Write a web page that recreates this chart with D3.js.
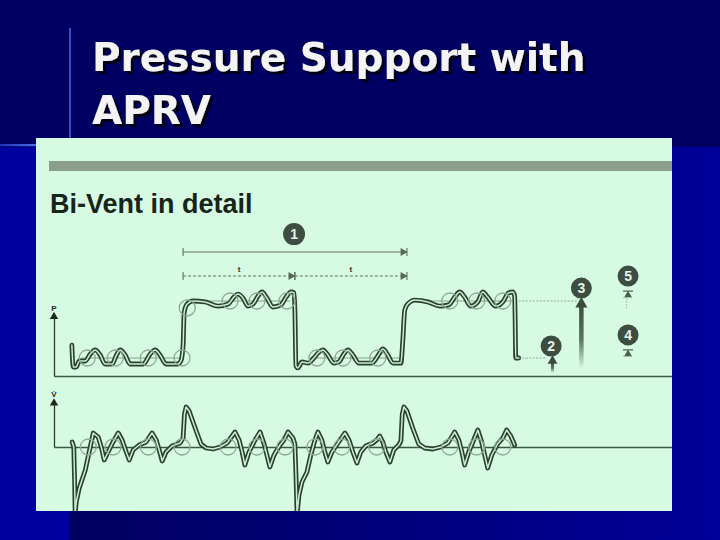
<!DOCTYPE html>
<html>
<head>
<meta charset="utf-8">
<script src="https://cdn.jsdelivr.net/npm/d3@7"></script>
<style>
  html, body { margin: 0; padding: 0; background: #000062; }
  svg { display: block; }
</style>
</head>
<body>
<div id="svgContainer"></div>
<script>
// Slide text
const titleLines = ["Pressure Support with", "APRV"];
const panelTitle = "Bi-Vent in detail";
const badgeLabels = ["1", "2", "3", "4", "5"];

// Pressure levels (cmH2O) and phase switch times (s)
const peepLow = 6;
const peepHigh = 25;
const riseTimes = [4.0, 12.0];
const fallTimes = [8.07, 16.07];
const cycleEnd = 12.15;

// Pressure trace: [time s, pressure cmH2O]
const pressureTrace = [
    [-0.05, 10.3], [0, 3], [0.11, 3], [0.22, 5], [0.44, 5], [0.62, 7.3], [0.8, 8.7],
    [0.98, 7], [1.16, 4], [1.42, 4], [1.56, 6.7], [1.71, 8.7], [1.89, 7], [2.07, 4],
    [2.55, 4], [2.8, 7.3], [2.98, 8.7], [3.16, 7], [3.38, 4], [3.82, 4], [3.93, 5.3],
    [4.0, 10.3], [4.04, 21.3], [4.15, 24], [4.36, 25], [4.8, 24.7], [5.27, 23.3],
    [5.64, 24], [5.85, 26.3], [6.0, 27.3], [6.18, 26], [6.36, 23.3], [6.55, 24],
    [6.73, 26.7], [6.87, 28], [7.05, 26], [7.27, 23], [7.56, 23.7], [7.75, 26.3],
    [7.93, 28], [8.04, 27.7], [8.07, 22], [8.11, 3.3], [8.18, 2.7], [8.33, 4.7],
    [8.55, 4.3], [8.76, 6], [8.95, 8], [9.09, 8.7], [9.27, 7], [9.49, 4.3], [9.67, 4.7],
    [9.85, 7.3], [10.0, 8.7], [10.18, 7], [10.4, 4.3], [10.87, 4.3], [11.13, 7.3],
    [11.27, 9], [11.45, 7], [11.64, 4.3], [11.93, 4.3], [12.0, 12], [12.07, 22],
    [12.18, 24], [12.44, 25.3], [12.91, 24.7], [13.35, 23.3], [13.67, 23.7],
    [13.89, 26.3], [14.07, 28], [14.25, 26.3], [14.47, 23.3], [14.73, 24.7],
    [14.91, 28], [15.09, 26.3], [15.38, 23.3], [15.64, 24.7], [15.85, 27.7],
    [16.0, 28], [16.07, 26.7], [16.09, 18.7], [16.11, 6], [16.22, 6]
];

// Flow trace: [time s, flow L/min]
const flowTrace = [
    [-0.04, 2.5], [0.02, 0], [0.05, -16.5], [0.07, -33.5], [0.11, -27.5], [0.22, -20.5],
    [0.44, -11.5], [0.58, -2.5], [0.73, 7], [0.91, 5], [1.02, 0], [1.13, -6.5],
    [1.27, -2.5], [1.45, 2.5], [1.64, 7], [1.78, 3.5], [1.93, -2.5], [2.04, -6.5],
    [2.18, -1.5], [2.4, 1], [2.65, 2.5], [2.87, 7], [3.02, 3.5], [3.13, -1.5],
    [3.24, -7], [3.38, -2.5], [3.6, 0.5], [3.89, 2], [4.0, 4.5], [4.05, 16.5],
    [4.11, 20], [4.22, 18], [4.44, 9.5], [4.65, 1.5], [4.84, -0.5], [5.09, -1],
    [5.35, 0], [5.6, 2], [5.89, 7.5], [6.04, 3.5], [6.15, -2.5], [6.25, -9],
    [6.4, -2.5], [6.62, 3.5], [6.8, 7.5], [6.95, 1.5], [7.05, -4], [7.16, -10],
    [7.31, -4], [7.53, 1], [7.67, 3.5], [7.82, 7.5], [8.0, 4.5], [8.07, 1.5],
    [8.11, -14], [8.15, -33.5], [8.22, -24], [8.33, -17.5], [8.51, -12.5], [8.65, -4],
    [8.8, 3.5], [8.91, 7.5], [9.05, 3.5], [9.16, -2.5], [9.27, -7.5], [9.42, -2.5],
    [9.64, 2], [9.89, 7], [10.04, 3.5], [10.18, -2.5], [10.33, -8], [10.47, -2.5],
    [10.65, 0.5], [10.91, 2], [11.05, 3.5], [11.16, 5.5], [11.27, 2.5], [11.38, -2.5],
    [11.53, -7.5], [11.67, -1.5], [11.85, 1], [11.93, 3], [11.98, 16.5], [12.04, 20],
    [12.15, 18], [12.36, 9.5], [12.58, 1.5], [12.8, -0.5], [13.09, -1], [13.38, 0],
    [13.64, 2], [13.89, 7.5], [14.04, 3.5], [14.15, -2.5], [14.25, -9], [14.4, -2.5],
    [14.58, 3.5], [14.73, 8.5], [14.87, 2.5], [14.98, -4], [15.09, -10.5], [15.24, -4],
    [15.45, 1.5], [15.64, 4.5], [15.78, 8.5], [15.93, 5.5], [16.07, 1]
];

// Trigger circles: [time, pressure]
const pressureTriggers = [
    [0.51, 6], [1.53, 6], [2.73, 6], [3.96, 6],
    [4.15, 22.7], [5.71, 25], [6.69, 25], [7.78, 25],
    [8.87, 6], [9.82, 6], [11.09, 6],
    [13.71, 25], [14.69, 25], [15.64, 25]
];
const flowTriggers = [0.55, 1.45, 2.73, 3.96, 5.64, 6.69, 7.71, 8.8, 9.78, 11.05, 13.71, 14.69, 15.64];

// Thin PEEP guide segments: [start, end, level]
const levelGuides = [[0.3, 3.96, 6], [4.15, 7.9, 25], [8.6, 11.9, 6], [12.3, 16.0, 25]];

const svg = d3.select("#svgContainer").append("svg")
    .attr("width", 720)
    .attr("height", 540);

const defs = svg.append("defs");
const fade = defs.append("linearGradient").attr("id", "bgFade");
fade.append("stop").attr("offset", 0).attr("stop-color", "#00005f");
fade.append("stop").attr("offset", 1).attr("stop-color", "#00009a");
const glow = defs.append("linearGradient").attr("id", "glow");
glow.append("stop").attr("offset", 0).attr("stop-color", "#1b2fb8");
glow.append("stop").attr("offset", 1).attr("stop-color", "#5078ea");
const arrowFade = defs.append("linearGradient").attr("id", "arrowFade")
    .attr("x1", 0).attr("y1", 0).attr("x2", 0).attr("y2", 1);
arrowFade.append("stop").attr("offset", 0).attr("stop-color", "#3a4b40");
arrowFade.append("stop").attr("offset", 0.55).attr("stop-color", "#5d7363");
arrowFade.append("stop").attr("offset", 1).attr("stop-color", "#d7fae3");
defs.append("clipPath").attr("id", "panelClip")
    .append("rect").attr("x", 36).attr("y", 138).attr("width", 636).attr("height", 373);
defs.append("filter").attr("id", "titleShadow")
    .attr("x", "-5%").attr("y", "-20%").attr("width", "115%").attr("height", "150%")
    .append("feDropShadow")
    .attr("dx", 3).attr("dy", 3).attr("stdDeviation", 0.6)
    .attr("flood-color", "#000000").attr("flood-opacity", 0.8);

// slide background
svg.append("rect").attr("width", 720).attr("height", 540).attr("fill", "#00009e");
svg.append("rect").attr("width", 720).attr("height", 147).attr("fill", "#000062");
svg.append("rect").attr("x", 70).attr("y", 147).attr("width", 650).attr("height", 393)
    .attr("fill", "url(#bgFade)");
svg.append("line").attr("x1", 70).attr("x2", 70).attr("y1", 28).attr("y2", 140)
    .attr("stroke", "#4568dc").attr("stroke-width", 1.6);
svg.append("rect").attr("x", 0).attr("y", 144).attr("width", 40).attr("height", 2.2)
    .attr("fill", "url(#glow)");

// title with shadow
svg.append("g")
    .attr("font-family", "DejaVu Sans, Verdana, sans-serif")
    .attr("font-weight", "bold")
    .attr("font-size", 39)
    .attr("fill", "#f4f4f4")
    .attr("filter", "url(#titleShadow)")
    .selectAll("text")
    .data(titleLines)
    .join("text")
    .attr("x", 92)
    .attr("y", (d, i) => 71 + i * 53)
    .text(d => d);

// panel
svg.append("rect").attr("x", 36).attr("y", 138).attr("width", 636).attr("height", 373)
    .attr("fill", "#d7fae3");
svg.append("rect").attr("x", 49).attr("y", 161).attr("width", 623).attr("height", 10)
    .attr("fill", "#8b9d8d");
svg.append("text")
    .attr("x", 50).attr("y", 213)
    .attr("font-family", "Liberation Sans, Arial, sans-serif")
    .attr("font-weight", "bold")
    .attr("font-size", 27)
    .attr("fill", "#17241a")
    .text(panelTitle);

const x = d3.scaleLinear().domain([-0.7, 21.8]).range([54, 672]);
const yP = d3.scaleLinear().domain([0, 30]).range([376, 286]);
const yF = d3.scaleLinear().domain([-35, 25]).range([517, 397]);

const chart = svg.append("g").attr("clip-path", "url(#panelClip)");
const ink = "#3a5a42";
const tri = d3.symbol().type(d3.symbolTriangle);

// axes
function drawAxes(yScale, top, label) {
    chart.append("g")
        .attr("transform", `translate(0,${yScale(0)})`)
        .call(d3.axisBottom(x).tickValues([]).tickSizeOuter(0))
        .call(g => g.select(".domain").attr("stroke", ink).attr("stroke-width", 1.3));
    const yAxisScale = yScale.copy().domain([0, top]).range([yScale(0), yScale(top)]);
    chart.append("g")
        .attr("transform", `translate(${x.range()[0]},0)`)
        .call(d3.axisLeft(yAxisScale).tickValues([]).tickSizeOuter(0))
        .call(g => g.select(".domain").attr("stroke", "#2c3f30").attr("stroke-width", 1.3));
    chart.append("path")
        .attr("d", tri.size(30)())
        .attr("transform", `translate(${x.range()[0]},${yScale(top) + 2})`)
        .attr("fill", "#1d2a20");
    chart.append("text")
        .attr("x", x.range()[0]).attr("y", yScale(top) - 4)
        .attr("text-anchor", "middle")
        .attr("font-family", "Liberation Sans, Arial, sans-serif")
        .attr("font-weight", "bold")
        .attr("font-size", 8)
        .attr("fill", "#1d2a20")
        .text(label);
}
drawAxes(yP, 20.5, "P");
drawAxes(yF, 23, "V\u0307");

// thin level guides
chart.append("g")
    .selectAll("line")
    .data(levelGuides)
    .join("line")
    .attr("x1", d => x(d[0])).attr("x2", d => x(d[1]))
    .attr("y1", d => yP(d[2])).attr("y2", d => yP(d[2]))
    .attr("stroke", "#6f8a76").attr("stroke-width", 0.8);

// tube styled traces
function tube(data, line) {
    chart.append("path").datum(data).attr("d", line)
        .attr("fill", "none").attr("stroke", "#2a4030").attr("stroke-width", 4.8)
        .attr("stroke-linejoin", "round").attr("stroke-linecap", "round");
    chart.append("path").datum(data).attr("d", line)
        .attr("fill", "none").attr("stroke", "#cdeed6").attr("stroke-width", 1.5)
        .attr("stroke-linejoin", "round").attr("stroke-linecap", "round");
}
tube(pressureTrace, d3.line().x(d => x(d[0])).y(d => yP(d[1])).curve(d3.curveMonotoneX));
tube(flowTrace, d3.line().x(d => x(d[0])).y(d => yF(d[1])));

// trigger circles
chart.append("g")
    .selectAll("circle")
    .data(pressureTriggers)
    .join("circle")
    .attr("cx", d => x(d[0])).attr("cy", d => yP(d[1])).attr("r", 8)
    .attr("fill", "none").attr("stroke", "#8ea997").attr("stroke-width", 1.3);
chart.append("g")
    .selectAll("circle")
    .data(flowTriggers)
    .join("circle")
    .attr("cx", d => x(d)).attr("cy", yF(0)).attr("r", 8)
    .attr("fill", "none").attr("stroke", "#8ea997").attr("stroke-width", 1.3);

// cycle annotations at the top
const anno = svg.append("g").attr("stroke", "#5f7163").attr("stroke-width", 1.1);
function span(t0, t1, y, dashed) {
    anno.append("line").attr("x1", x(t0)).attr("x2", x(t1)).attr("y1", y).attr("y2", y)
        .attr("stroke-dasharray", dashed ? "3,2" : null);
    [t0, t1].forEach(t => anno.append("line")
        .attr("x1", x(t)).attr("x2", x(t)).attr("y1", y - 4).attr("y2", y + 4));
    anno.append("path").attr("d", tri.size(28)())
        .attr("transform", `translate(${x(t1) - 4},${y}) rotate(90)`)
        .attr("fill", "#55685a").attr("stroke", "none");
}
span(riseTimes[0], cycleEnd, 252, false);
span(riseTimes[0], fallTimes[0], 276, true);
span(fallTimes[0], cycleEnd, 276, true);
svg.append("g")
    .selectAll("text")
    .data([[riseTimes[0], fallTimes[0]], [fallTimes[0], cycleEnd]])
    .join("text")
    .attr("x", d => x((d[0] + d[1]) / 2)).attr("y", 272)
    .attr("text-anchor", "middle")
    .attr("font-family", "Liberation Sans, Arial, sans-serif")
    .attr("font-weight", "bold").attr("font-size", 8).attr("fill", "#233326")
    .text("t");

// level markers on the right
const markers = svg.append("g");
markers.append("g")
    .selectAll("line")
    .data([[16.22, 17.25, peepLow], [16.22, 18.35, peepHigh]])
    .join("line")
    .attr("x1", d => x(d[0])).attr("x2", d => x(d[1]))
    .attr("y1", d => yP(d[2])).attr("y2", d => yP(d[2]))
    .attr("stroke", "#8aa292").attr("stroke-width", 0.9).attr("stroke-dasharray", "2,1.5");

function bigArrow(t, from, to, w) {
    markers.append("rect")
        .attr("x", x(t) - w / 2).attr("y", yP(to) + 4)
        .attr("width", w).attr("height", yP(from) - yP(to) - 4)
        .attr("fill", "url(#arrowFade)");
    markers.append("path").attr("d", tri.size(w * 14)())
        .attr("transform", `translate(${x(t)},${yP(to) + 3})`)
        .attr("fill", "#3a4b40");
}
bigArrow(17.45, 1, peepLow, 3);
bigArrow(18.5, 2.5, peepHigh, 4.5);

function smallArrow(t, bar, base) {
    markers.append("line")
        .attr("x1", x(t) - 5).attr("x2", x(t) + 5)
        .attr("y1", yP(bar)).attr("y2", yP(bar))
        .attr("stroke", "#3f4f44").attr("stroke-width", 1.1);
    markers.append("path").attr("d", tri.size(26)())
        .attr("transform", `translate(${x(t)},${(yP(bar) + yP(base)) / 2 + 1})`)
        .attr("fill", "#4b5e50");
    markers.append("line")
        .attr("x1", x(t) - 5).attr("x2", x(t) + 5)
        .attr("y1", yP(base) + 0.5).attr("y2", yP(base) + 0.5)
        .attr("stroke", "#8aa292").attr("stroke-width", 0.8).attr("stroke-dasharray", "1.5,1");
}
smallArrow(20.2, 28.3, 26.3);
smallArrow(20.2, 8.7, 6.7);
markers.append("line")
    .attr("x1", x(20.15)).attr("x2", x(20.15))
    .attr("y1", yP(26)).attr("y2", yP(22))
    .attr("stroke", "#8aa292").attr("stroke-width", 0.8).attr("stroke-dasharray", "1.5,1.5");

// numbered badges: [time, pressure]
const badgePos = [[8.04, 47.3], [17.4, 10], [18.5, 29.3], [20.2, 13.7], [20.2, 33.3]];
const badges = svg.append("g")
    .selectAll("g")
    .data(badgeLabels)
    .join("g")
    .attr("transform", (d, i) => `translate(${x(badgePos[i][0])},${yP(badgePos[i][1])})`);
badges.append("circle").attr("r", (d, i) => i === 0 ? 11 : 10.5).attr("fill", "#3e4d42");
badges.append("text")
    .attr("text-anchor", "middle").attr("dy", "0.36em")
    .attr("font-family", "Liberation Sans, Arial, sans-serif")
    .attr("font-weight", "bold").attr("font-size", 14).attr("fill", "#e8f3ea")
    .text(d => d);
</script>
</body>
</html>
